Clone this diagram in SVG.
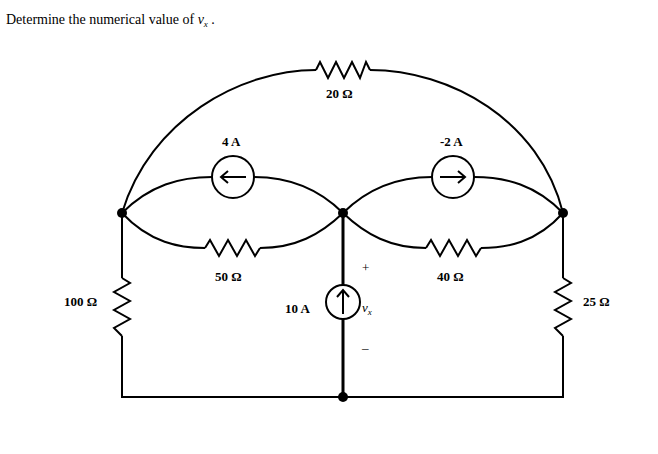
<svg xmlns="http://www.w3.org/2000/svg" width="658" height="454" viewBox="0 0 658 454">
<style>
.w{fill:none;stroke:#000;stroke-width:2}
.t{font-family:"Liberation Serif",serif;font-size:13px;font-weight:bold;fill:#000}
</style>
<rect width="658" height="454" fill="#fff"/>
<text x="6" y="24" font-family="Liberation Serif,serif" font-size="14">Determine the numerical value of <tspan font-style="italic">v</tspan><tspan font-style="italic" font-size="9" dy="3">x</tspan><tspan dy="-3"> .</tspan></text>
<g id="connectors" class="w">
<path d="M122,213 C150,120 240,70 316,70"/>
<path d="M370,70 C450,70 540,120 563,213"/>
<path d="M122,213 C150,185 180,177 212,177"/>
<path d="M254,177 C290,177 320,190 343,213"/>
<path d="M122,213 C150,243 180,248 205,248"/>
<path d="M260,248 C295,248 320,235 343,213"/>
<path d="M343,213 C366,190 396,177 432,177"/>
<path d="M474,177 C506,177 536,185 563,213"/>
<path d="M343,213 C366,235 391,248 426,248"/>
<path d="M481,248 C506,248 536,243 563,213"/>
<path d="M122,213 V278 M122,336 V397 H563 V336 M563,278 V213"/>
<path d="M343,213 V285 M343,319 V397" stroke-width="3"/>
</g>
<g id="r20" class="w"><path d="M316,70 L320,62 L328,78 L336,62 L344,78 L352,62 L360,78 L366,62 L370,70"/></g>
<g id="r50" class="w"><path d="M205,248 L210,240 L219,256 L228,240 L237,256 L246,240 L255,256 L260,248"/></g>
<g id="r40" class="w"><path d="M426,248 L431,240 L440,256 L449,240 L458,256 L467,240 L476,256 L481,248"/></g>
<g id="r100" class="w"><path d="M122,278 L130,283 L114,292 L130,301 L114,310 L130,319 L114,328 L122,336"/></g>
<g id="r25" class="w"><path d="M563,278 L571,283 L555,292 L571,301 L555,310 L571,319 L555,328 L563,336"/></g>
<g id="s4" class="w"><circle cx="233" cy="177" r="21"/><path d="M246,177 H221 M228,171 L221,177 L228,183"/></g>
<g id="s2" class="w"><circle cx="453" cy="177" r="21"/><path d="M440,177 H465 M458,171 L465,177 L458,183"/></g>
<g id="s10" class="w"><circle cx="343" cy="302" r="17"/><path d="M343,314 V290 M337,297 L343,290 L349,297"/></g>
<g id="nodes"><circle cx="122" cy="213" r="5"/><circle cx="343" cy="213" r="5"/><circle cx="563" cy="213" r="5"/><circle cx="343" cy="397" r="5"/></g>
<g id="labels" class="t">
<text x="326" y="98">20 Ω</text>
<text x="222" y="146">4 A</text>
<text x="440" y="146">-2 A</text>
<text x="215" y="281">50 Ω</text>
<text x="437" y="281">40 Ω</text>
<text x="64" y="306">100 Ω</text>
<text x="583" y="306">25 Ω</text>
<text x="285" y="313">10 A</text>
<text x="362" y="272" font-weight="normal">+</text>
<text x="362" y="312" font-style="italic" font-weight="normal">v<tspan font-size="9" dy="3">x</tspan></text>
<text x="362" y="352" font-weight="normal">–</text>
</g>
</svg>
